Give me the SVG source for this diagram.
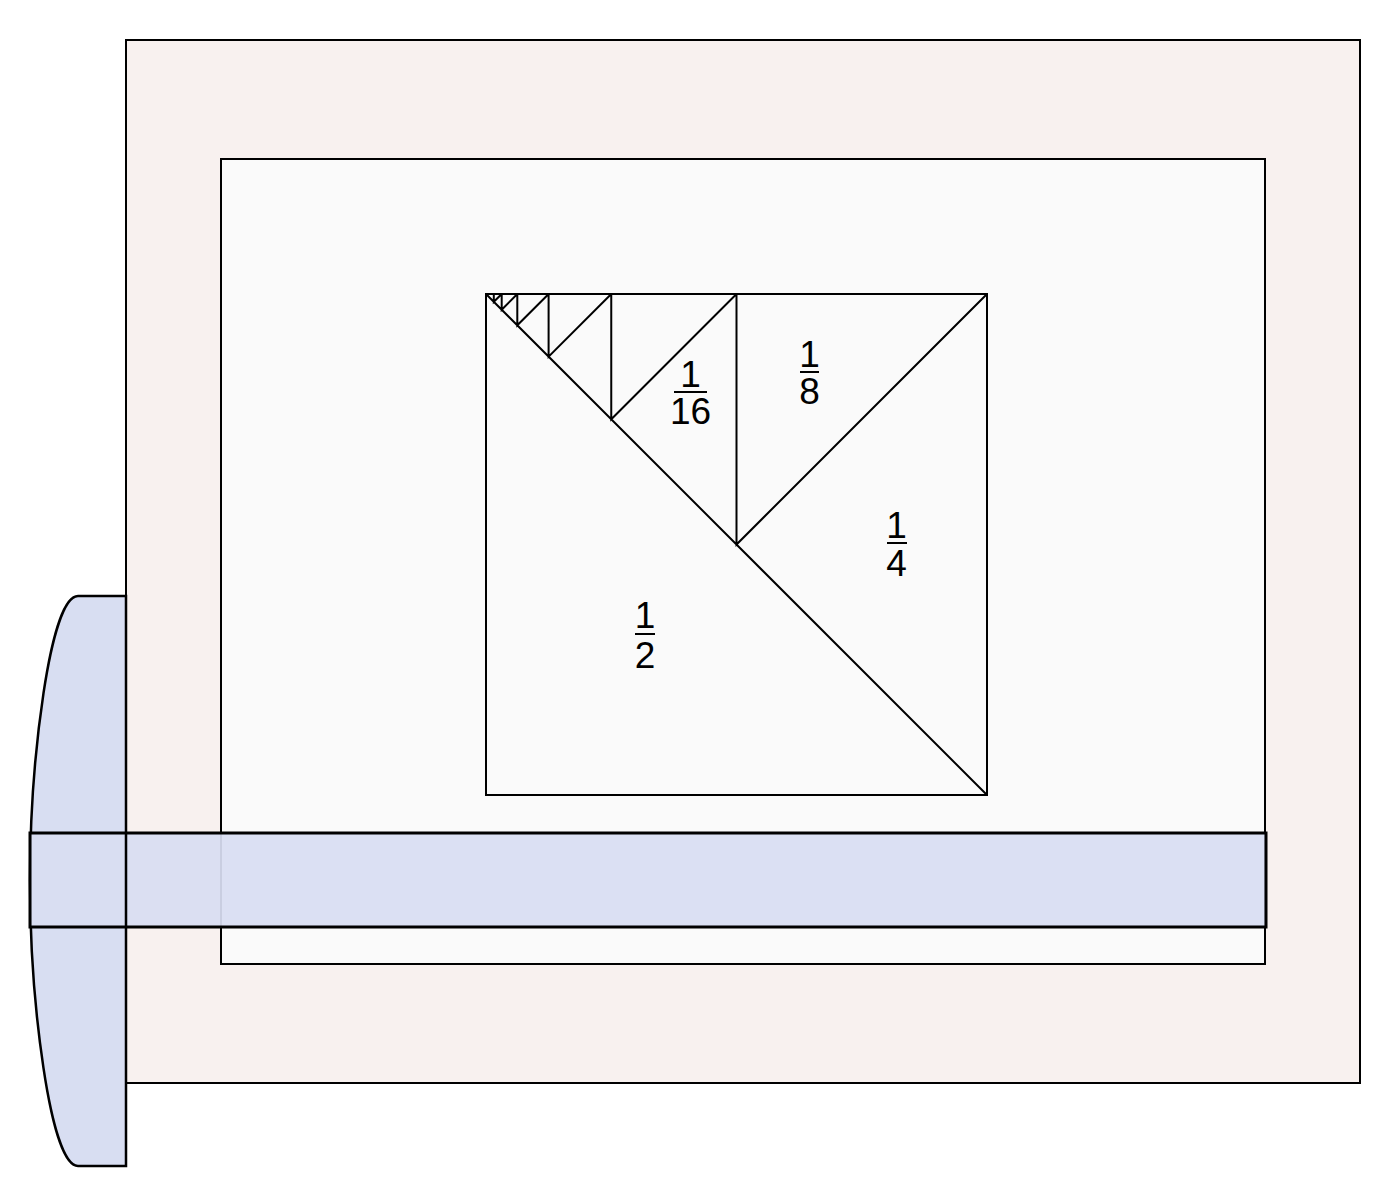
<svg xmlns="http://www.w3.org/2000/svg" width="1396" height="1198" viewBox="0 0 1396 1198">
<style>
.ln{fill:none;stroke:#000;stroke-width:2}
.fr{font-family:"Liberation Sans",Arial,sans-serif;font-size:37px;fill:#000;text-anchor:middle}
.fb{stroke:#000;stroke-width:2}
</style>
<rect width="1396" height="1198" fill="#ffffff"/>
<g id="board">
<rect x="126" y="40" width="1234" height="1043" fill="#f8f1ef" stroke="#000" stroke-width="2"/>
</g>
<g id="paper">
<rect x="221" y="159" width="1044" height="805" fill="#fafafa" stroke="#000" stroke-width="2"/>
</g>
<g id="square">
<rect x="486" y="294" width="501" height="501" class="ln"/>
<path class="ln" d="M486,294 L987,795 M987,294 L736.5,544.5 V294 M736.5,294 L611.25,419.25 V294 M611.25,294 L548.6,356.6 V294 M548.6,294 L517.3,325.3 V294 M517.3,294 L501.7,309.7 V294 M501.7,294 L493.8,301.8 V294"/>
</g>
<g id="fractions">
<text class="fr" x="690.5" y="387">1</text><line class="fb" x1="674" y1="392" x2="707" y2="392"/><text class="fr" x="690.5" y="424">16</text>
<text class="fr" x="809.5" y="367">1</text><line class="fb" x1="800" y1="372" x2="819" y2="372"/><text class="fr" x="809.5" y="404">8</text>
<text class="fr" x="896.5" y="538">1</text><line class="fb" x1="887" y1="543" x2="907" y2="543"/><text class="fr" x="896.5" y="576">4</text>
<text class="fr" x="645" y="628">1</text><line class="fb" x1="635" y1="634" x2="655" y2="634"/><text class="fr" x="645" y="668">2</text>
</g>
<g id="tsquare-head">
<path d="M126,596 H78 C50,596 30,760 30,881 C30,1000 50,1166 78,1166 H126 Z" fill="#d8def2" stroke="#000" stroke-width="2.5"/>
</g>
<g id="tsquare-blade">
<rect x="30" y="833" width="1236" height="94" fill="#d8def2" fill-opacity="0.93" stroke="#000" stroke-width="3"/>
<line x1="126" y1="833" x2="126" y2="927" stroke="#000" stroke-width="2.5"/>
</g>
</svg>
